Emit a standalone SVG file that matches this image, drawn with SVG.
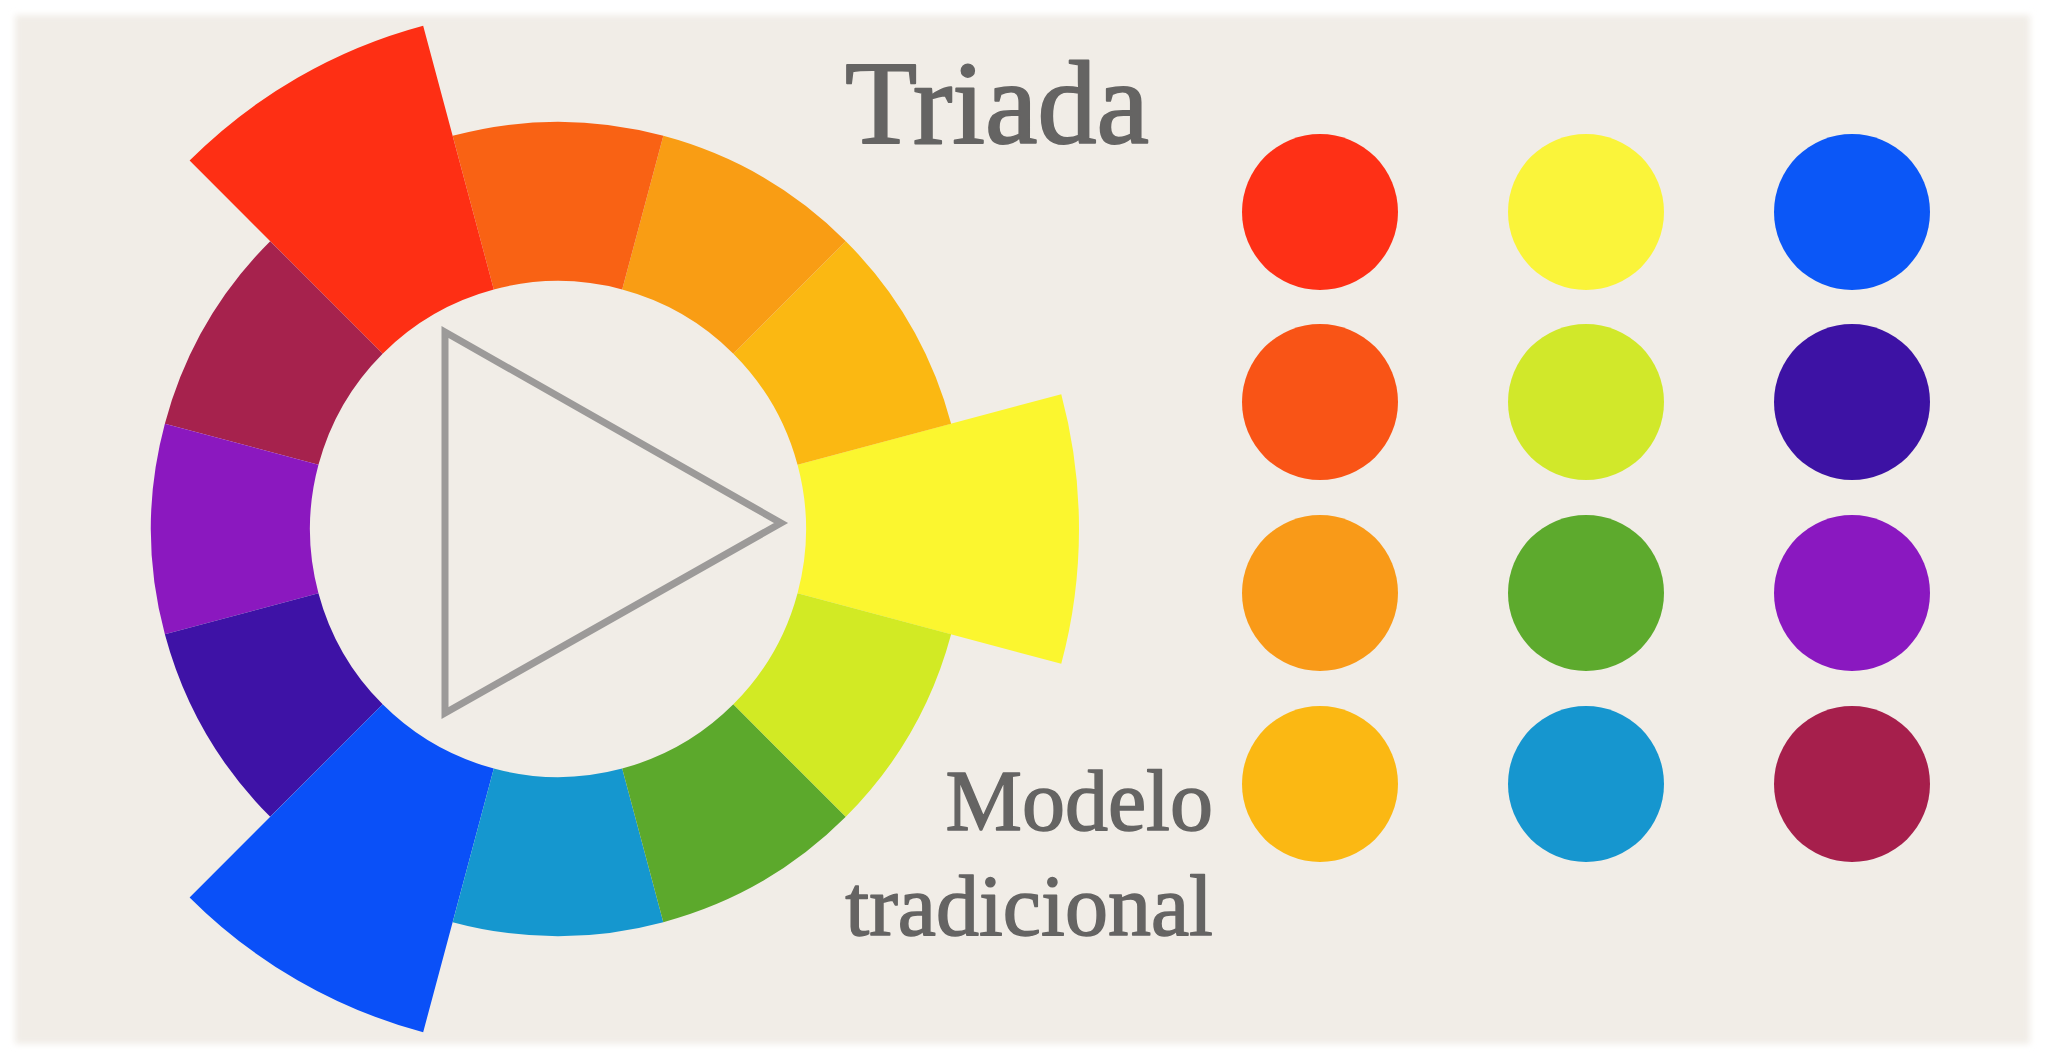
<svg xmlns="http://www.w3.org/2000/svg" width="2048" height="1059" viewBox="0 0 2048 1059">
  <defs>
    <style>
      .seg { stroke: none; }
      .sw { stroke: none; }
      .ttl { font-family: "Liberation Serif", "Times New Roman", serif; fill: #656463; stroke: #656463; stroke-linejoin: round; }
      .tri { fill: none; stroke: #9c9a99; stroke-width: 7; stroke-linejoin: miter; }
    </style>
    <filter id="soft" x="-2%" y="-2%" width="104%" height="104%">
      <feGaussianBlur stdDeviation="3"/>
    </filter>
  </defs>

  <rect x="0" y="0" width="2048" height="1059" fill="#ffffff"/>
  <rect id="paper" x="15" y="15" width="2015" height="1029" fill="#f1ede7" filter="url(#soft)"/>

  <g id="wheel">
    <path id="seg-yellow" class="seg" fill="#fbf62f" d="M 1061.25,663.84 A 521 521 0 0 0 1061.25,394.16 L 797.55,464.81 A 248 248 0 0 1 797.55,593.19 Z"/>
    <path id="seg-yellow-orange" class="seg" fill="#fbb812" d="M 951.13,423.66 A 407 407 0 0 0 845.79,241.21 L 733.36,353.64 A 248 248 0 0 1 797.55,464.81 Z"/>
    <path id="seg-orange" class="seg" fill="#f99d14" d="M 845.79,241.21 A 407 407 0 0 0 663.34,135.87 L 622.19,289.45 A 248 248 0 0 1 733.36,353.64 Z"/>
    <path id="seg-red-orange" class="seg" fill="#f96214" d="M 663.34,135.87 A 407 407 0 0 0 452.66,135.87 L 493.81,289.45 A 248 248 0 0 1 622.19,289.45 Z"/>
    <path id="seg-red" class="seg" fill="#fe2f14" d="M 423.16,25.75 A 521 521 0 0 0 189.60,160.60 L 382.64,353.64 A 248 248 0 0 1 493.81,289.45 Z"/>
    <path id="seg-red-violet" class="seg" fill="#a6224d" d="M 270.21,241.21 A 407 407 0 0 0 164.87,423.66 L 318.45,464.81 A 248 248 0 0 1 382.64,353.64 Z"/>
    <path id="seg-violet" class="seg" fill="#8b18bf" d="M 164.87,423.66 A 407 407 0 0 0 164.87,634.34 L 318.45,593.19 A 248 248 0 0 1 318.45,464.81 Z"/>
    <path id="seg-blue-violet" class="seg" fill="#3e12a6" d="M 164.87,634.34 A 407 407 0 0 0 270.21,816.79 L 382.64,704.36 A 248 248 0 0 1 318.45,593.19 Z"/>
    <path id="seg-blue" class="seg" fill="#0a50f8" d="M 189.60,897.40 A 521 521 0 0 0 423.16,1032.25 L 493.81,768.55 A 248 248 0 0 1 382.64,704.36 Z"/>
    <path id="seg-blue-green" class="seg" fill="#1597cf" d="M 452.66,922.13 A 407 407 0 0 0 663.34,922.13 L 622.19,768.55 A 248 248 0 0 1 493.81,768.55 Z"/>
    <path id="seg-green" class="seg" fill="#5ca92c" d="M 663.34,922.13 A 407 407 0 0 0 845.79,816.79 L 733.36,704.36 A 248 248 0 0 1 622.19,768.55 Z"/>
    <path id="seg-yellow-green" class="seg" fill="#d2ea24" d="M 845.79,816.79 A 407 407 0 0 0 951.13,634.34 L 797.55,593.19 A 248 248 0 0 1 733.36,704.36 Z"/>
  </g>

  <g id="triangle">
    <polygon class="tri" points="445,332 781,523 445,713"/>
  </g>

  <g id="title">
    <text class="ttl" x="845" y="143" font-size="118" stroke-width="2">Triada</text>
  </g>

  <g id="subtitle">
    <text class="ttl" x="1213" y="830" font-size="86" text-anchor="end" stroke-width="1.5">Modelo</text>
    <text class="ttl" x="1213" y="935" font-size="86" text-anchor="end" stroke-width="1.5">tradicional</text>
  </g>

  <g id="swatches">
    <g id="sw-red"><circle class="sw" cx="1320" cy="212" r="78" fill="#fe3016"/></g>
    <g id="sw-red-orange"><circle class="sw" cx="1320" cy="402" r="78" fill="#f95416"/></g>
    <g id="sw-orange"><circle class="sw" cx="1320" cy="593" r="78" fill="#f99a18"/></g>
    <g id="sw-yellow-orange"><circle class="sw" cx="1320" cy="784" r="78" fill="#fbb813"/></g>
    <g id="sw-yellow"><circle class="sw" cx="1586" cy="212" r="78" fill="#faf43a"/></g>
    <g id="sw-yellow-green"><circle class="sw" cx="1586" cy="402" r="78" fill="#d1e82a"/></g>
    <g id="sw-green"><circle class="sw" cx="1586" cy="593" r="78" fill="#5daa2d"/></g>
    <g id="sw-blue-green"><circle class="sw" cx="1586" cy="784" r="78" fill="#1696cf"/></g>
    <g id="sw-blue"><circle class="sw" cx="1852" cy="212" r="78" fill="#0b57f7"/></g>
    <g id="sw-blue-violet"><circle class="sw" cx="1852" cy="402" r="78" fill="#3d12a4"/></g>
    <g id="sw-violet"><circle class="sw" cx="1852" cy="593" r="78" fill="#8a18c0"/></g>
    <g id="sw-red-violet"><circle class="sw" cx="1852" cy="784" r="78" fill="#a61f4c"/></g>
  </g>

  <g id="connectors"/>
</svg>
